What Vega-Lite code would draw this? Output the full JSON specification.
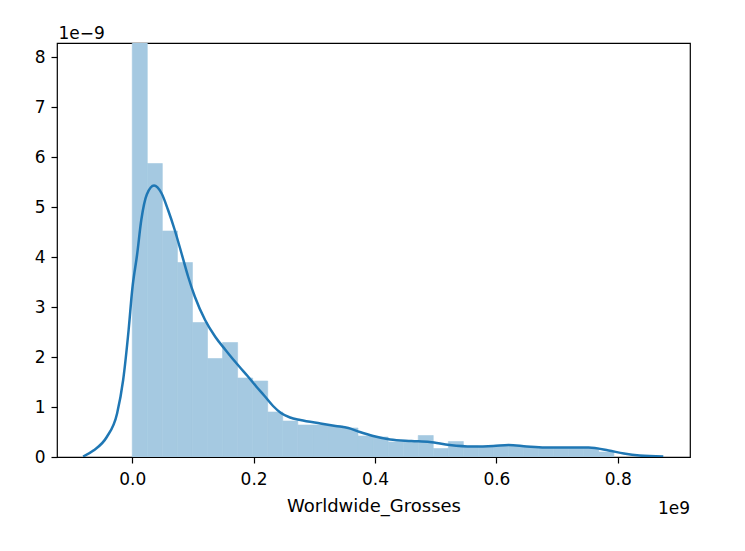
{
  "$schema": "https://vega.github.io/schema/vega-lite/v6.json",
  "autosize": "none",
  "width": 633,
  "height": 414,
  "padding": {"left": 57, "top": 43, "right": 55, "bottom": 94},
  "background": "white",
  "title": {
    "text": "1e9",
    "orient": "bottom",
    "anchor": "end",
    "frame": "group",
    "offset": -14,
    "fontSize": 17,
    "fontWeight": "normal",
    "font": "DejaVu Sans",
    "color": "black"
  },
  "layer": [
    {
      "data": {
        "values": [
          {"start": 0, "end": 24800000, "density": 8.6e-9},
          {"start": 24800000, "end": 49600000, "density": 5.87e-9},
          {"start": 49600000, "end": 74400000, "density": 4.52e-9},
          {"start": 74400000, "end": 99200000, "density": 3.89e-9},
          {"start": 99200000, "end": 124000000, "density": 2.69e-9},
          {"start": 124000000, "end": 148800000, "density": 1.97e-9},
          {"start": 148800000, "end": 173600000, "density": 2.29e-9},
          {"start": 173600000, "end": 198400000, "density": 1.58e-9},
          {"start": 198400000, "end": 223200000, "density": 1.52e-9},
          {"start": 223200000, "end": 248000000, "density": 0.90e-9},
          {"start": 248000000, "end": 272800000, "density": 0.72e-9},
          {"start": 272800000, "end": 297600000, "density": 0.64e-9},
          {"start": 297600000, "end": 322400000, "density": 0.64e-9},
          {"start": 322400000, "end": 347200000, "density": 0.62e-9},
          {"start": 347200000, "end": 372000000, "density": 0.58e-9},
          {"start": 372000000, "end": 396800000, "density": 0.42e-9},
          {"start": 396800000, "end": 421600000, "density": 0.40e-9},
          {"start": 421600000, "end": 446400000, "density": 0.30e-9},
          {"start": 446400000, "end": 471200000, "density": 0.33e-9},
          {"start": 471200000, "end": 496000000, "density": 0.43e-9},
          {"start": 496000000, "end": 520800000, "density": 0.17e-9},
          {"start": 520800000, "end": 545600000, "density": 0.31e-9},
          {"start": 545600000, "end": 570400000, "density": 0.22e-9},
          {"start": 570400000, "end": 595200000, "density": 0.21e-9},
          {"start": 595200000, "end": 620000000, "density": 0.22e-9},
          {"start": 620000000, "end": 644800000, "density": 0.22e-9},
          {"start": 644800000, "end": 669600000, "density": 0.20e-9},
          {"start": 669600000, "end": 694400000, "density": 0.19e-9},
          {"start": 694400000, "end": 719200000, "density": 0.19e-9},
          {"start": 719200000, "end": 744000000, "density": 0.19e-9},
          {"start": 744000000, "end": 768800000, "density": 0.18e-9},
          {"start": 768800000, "end": 793600000, "density": 0.10e-9}
        ]
      },
      "mark": {"type": "rect", "fill": "#a5c9e1", "stroke": "#a5c9e1", "strokeWidth": 0.6, "clip": true},
      "encoding": {
        "x": {
          "field": "start",
          "type": "quantitative",
          "scale": {"domain": [-124000000, 919000000], "nice": false, "zero": false},
          "axis": {
            "title": "Worldwide_Grosses",
            "values": [0, 200000000, 400000000, 600000000, 800000000],
            "labelExpr": "format(datum.value / 1e9, '.1f')",
            "labelPadding": 8,
            "titleFontSize": 18,
            "titlePadding": 10
          }
        },
        "x2": {"field": "end"},
        "y": {
          "field": "density",
          "type": "quantitative",
          "scale": {"domain": [0, 8.28e-9], "nice": false},
          "axis": {
            "title": "1e\u22129",
            "values": [0, 1e-9, 2e-9, 3e-9, 4e-9, 5e-9, 6e-9, 7e-9, 8e-9],
            "labelExpr": "format(datum.value * 1e9, '.0f')",
            "titleAngle": 0,
            "titleAlign": "left",
            "titleBaseline": "alphabetic",
            "titleX": 1,
            "titleY": -5
          }
        },
        "y2": {"datum": 0}
      }
    },
    {
      "data": {
        "values": [
          {"gross": -81000000, "density": 0.01e-9},
          {"gross": -64000000, "density": 0.13e-9},
          {"gross": -42000000, "density": 0.40e-9},
          {"gross": -25000000, "density": 0.87e-9},
          {"gross": -15000000, "density": 1.54e-9},
          {"gross": -6000000, "density": 2.54e-9},
          {"gross": 0, "density": 3.35e-9},
          {"gross": 8000000, "density": 4.05e-9},
          {"gross": 15000000, "density": 4.75e-9},
          {"gross": 24000000, "density": 5.25e-9},
          {"gross": 36000000, "density": 5.43e-9},
          {"gross": 48000000, "density": 5.28e-9},
          {"gross": 59000000, "density": 4.94e-9},
          {"gross": 70000000, "density": 4.54e-9},
          {"gross": 81000000, "density": 4.08e-9},
          {"gross": 92000000, "density": 3.61e-9},
          {"gross": 103000000, "density": 3.21e-9},
          {"gross": 120000000, "density": 2.74e-9},
          {"gross": 137000000, "density": 2.40e-9},
          {"gross": 153000000, "density": 2.15e-9},
          {"gross": 163000000, "density": 2.00e-9},
          {"gross": 177000000, "density": 1.80e-9},
          {"gross": 190000000, "density": 1.62e-9},
          {"gross": 205000000, "density": 1.40e-9},
          {"gross": 218000000, "density": 1.22e-9},
          {"gross": 232000000, "density": 1.02e-9},
          {"gross": 245000000, "density": 0.88e-9},
          {"gross": 260000000, "density": 0.79e-9},
          {"gross": 277000000, "density": 0.74e-9},
          {"gross": 310000000, "density": 0.67e-9},
          {"gross": 335000000, "density": 0.62e-9},
          {"gross": 356000000, "density": 0.58e-9},
          {"gross": 375000000, "density": 0.50e-9},
          {"gross": 397000000, "density": 0.42e-9},
          {"gross": 425000000, "density": 0.35e-9},
          {"gross": 460000000, "density": 0.32e-9},
          {"gross": 490000000, "density": 0.30e-9},
          {"gross": 523000000, "density": 0.24e-9},
          {"gross": 560000000, "density": 0.21e-9},
          {"gross": 595000000, "density": 0.22e-9},
          {"gross": 620000000, "density": 0.24e-9},
          {"gross": 650000000, "density": 0.21e-9},
          {"gross": 680000000, "density": 0.19e-9},
          {"gross": 720000000, "density": 0.19e-9},
          {"gross": 752000000, "density": 0.19e-9},
          {"gross": 785000000, "density": 0.13e-9},
          {"gross": 810000000, "density": 0.07e-9},
          {"gross": 836000000, "density": 0.03e-9},
          {"gross": 875000000, "density": 0.01e-9}
        ]
      },
      "mark": {"type": "line", "color": "#1f77b4", "strokeWidth": 2.5, "interpolate": "monotone", "clip": true},
      "encoding": {
        "x": {"field": "gross", "type": "quantitative"},
        "y": {"field": "density", "type": "quantitative"}
      }
    }
  ],
  "config": {
    "font": "DejaVu Sans",
    "view": {"stroke": "black", "strokeWidth": 1.2},
    "axis": {
      "grid": false,
      "domain": false,
      "ticks": true,
      "tickColor": "black",
      "tickWidth": 1.2,
      "tickSize": 6,
      "labelPadding": 6,
      "labelFontSize": 17,
      "labelColor": "black",
      "labelFont": "DejaVu Sans",
      "titleFontSize": 17,
      "titleFontWeight": "normal",
      "titleColor": "black",
      "titleFont": "DejaVu Sans"
    }
  }
}
